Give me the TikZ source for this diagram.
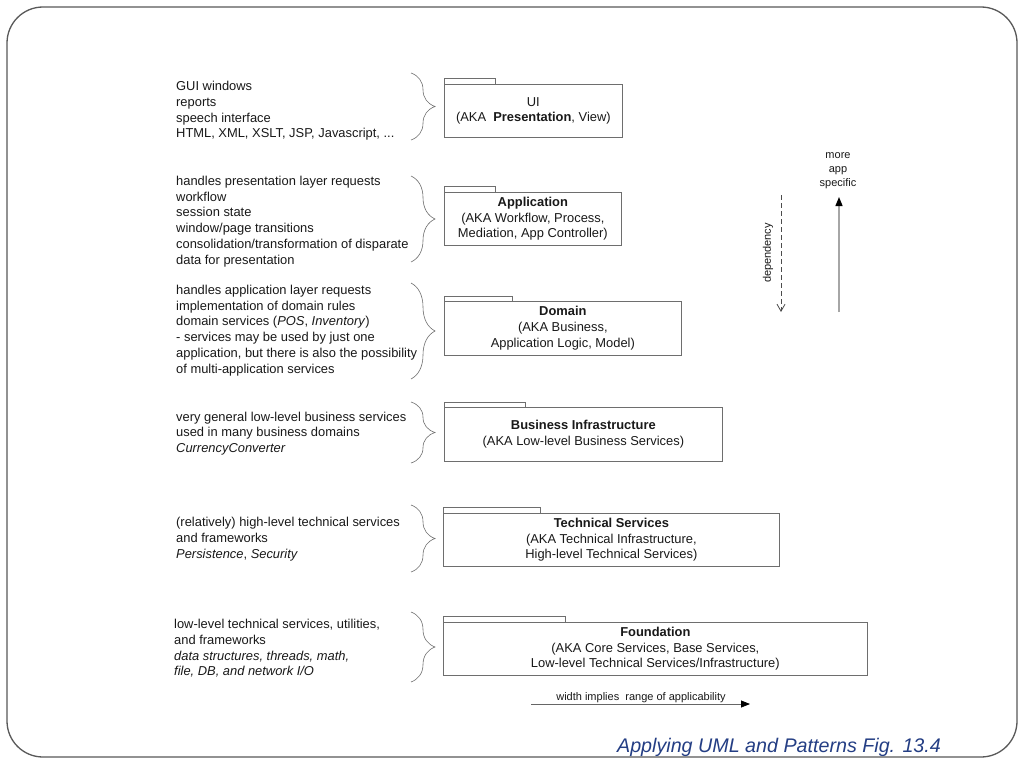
\documentclass[tikz,border=0pt]{standalone}
\usepackage{fontspec}
\setmainfont{Liberation Sans}
\usetikzlibrary{arrows.meta,decorations.pathreplacing}
\definecolor{titleblue}{RGB}{36,62,132}
\definecolor{linegray}{RGB}{110,110,110}
\begin{document}
\begin{tikzpicture}[x=1pt,y=-1pt,
	notes/.style={anchor=west,align=left,inner sep=0,text=black!90,font=\fontsize{12.9}{15.7}\selectfont},
	pkg/.style={draw=linegray,line width=0.7pt,anchor=north west,align=center,inner sep=0,text=black!90,font=\fontsize{12.9}{15.7}\selectfont},
	tab/.style={draw=linegray,line width=0.7pt},
	layerbrace/.style={draw=linegray,line width=0.6pt,decorate,decoration={brace,amplitude=24pt}},
	small/.style={inner sep=0,align=center,text=black!90,font=\fontsize{11}{14}\selectfont}]
		\useasboundingbox (0,0) rectangle (1024,768);
		\fill[white] (0,0) rectangle (1024,768);
		\draw[black!65,line width=1.3pt,rounded corners=36pt] (7,7) rectangle (1017,757);
		\node[notes] (uinotes) at (176,111) {GUI windows\\reports\\speech interface\\HTML, XML, XSLT, JSP, Javascript, ...};
		\node[notes] (appnotes) at (176,221.5) {handles presentation layer requests\\workflow\\session state\\window/page transitions\\consolidation/transformation of disparate\\data for presentation};
		\node[notes] (domnotes) at (176,330.5) {handles application layer requests\\implementation of domain rules\\domain services (\textit{POS}, \textit{Inventory})\\- services may be used by just one\\application, but there is also the possibility\\of multi-application services};
		\node[notes] (binotes) at (176,433.5) {very general low-level business services\\used in many business domains\\\textit{CurrencyConverter}};
		\node[notes] (tsnotes) at (176,539) {(relatively) high-level technical services\\and frameworks\\\textit{Persistence}, \textit{Security}};
		\node[notes] (fndnotes) at (174,648.5) {low-level technical services, utilities,\\and frameworks\\\textit{data structures, threads, math,}\\\textit{file, DB, and network I/O}};
		\foreach \t/\b in {73/140,176/262,283/379,402/463,505/572,612/682}
			\draw[layerbrace] (411,\t) -- (411,\b);
		\node[pkg,minimum width=178,minimum height=53] (ui) at (444,84) {UI\\(AKA\ \ \textbf{Presentation}, View)};
		\node[pkg,minimum width=177,minimum height=53] (app) at (444,192) {\textbf{Application}\\(AKA Workflow, Process,\\Mediation, App Controller)};
		\node[pkg,minimum width=237,minimum height=54] (dom) at (444,301) {\textbf{Domain}\\(AKA Business,\\Application Logic, Model)};
		\node[pkg,minimum width=278,minimum height=54] (bi) at (444,407) {\textbf{Business Infrastructure}\\(AKA Low-level Business Services)};
		\node[pkg,minimum width=336,minimum height=53] (ts) at (443,513) {\textbf{Technical Services}\\(AKA Technical Infrastructure,\\High-level Technical Services)};
		\node[pkg,minimum width=424,minimum height=53] (fnd) at (443,622) {\textbf{Foundation}\\(AKA Core Services, Base Services,\\Low-level Technical Services/Infrastructure)};
		\draw[tab] (ui.north west) rectangle ++(51,-6);
		\draw[tab] (app.north west) rectangle ++(51,-6);
		\draw[tab] (dom.north west) rectangle ++(68,-5);
		\draw[tab] (bi.north west) rectangle ++(81,-5);
		\draw[tab] (ts.north west) rectangle ++(97,-6);
		\draw[tab] (fnd.north west) rectangle ++(122,-6);
		\coordinate (deptop) at (781,195);
		\coordinate (depbot) at (781,312);
		\draw[black!70,line width=0.8pt,dash pattern=on 5pt off 3pt,-{Straight Barb[length=7pt,width=8pt]}] (deptop) -- (depbot);
		\node[small,rotate=90] (deplabel) at (768,253) {dependency};
		\node[small] (specific) at (838,171) {more\\app\\specific};
		\coordinate (specbot) at (839,312);
		\coordinate (spectop) at (839,197);
		\draw[black!35,line width=1.3pt,-{Triangle[length=9pt,width=7pt,color=black]}] (specbot) -- (spectop);
		\coordinate (widthfrom) at (531,704);
		\coordinate (widthto) at (750,704);
		\draw[black!60,line width=0.8pt,-{Triangle[length=9pt,width=7pt,color=black]}] (widthfrom) -- (widthto);
		\node[small] (widthlabel) at (641,697.5) {width implies\ \ range of applicability};
		\node[inner sep=0,text=titleblue,font=\fontsize{19.7}{24}\selectfont\itshape] (title) at (779,747) {Applying UML and Patterns Fig. 13.4};
	\end{tikzpicture}
\end{document}
